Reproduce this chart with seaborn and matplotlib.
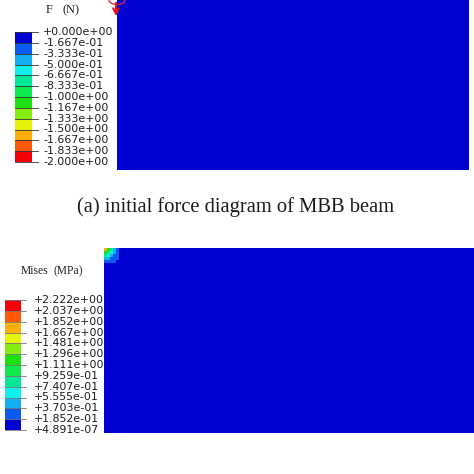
import matplotlib
matplotlib.use("Agg")
import matplotlib.pyplot as plt
from matplotlib.colors import ListedColormap, BoundaryNorm
from matplotlib.patches import Arc
import numpy as np
import seaborn as sns

plt.rcParams["font.family"] = ["DejaVu Sans"]

W = 474
H = 474

contour_colors = ["#0000d2", "#0a5aee", "#14aef2", "#10f0e8", "#00e896", "#0ce84e",
                  "#1ee010", "#84ec10", "#e6f20c", "#ffae10", "#ff5a0a", "#f60008"]

force_labels = ["+0.000e+00", "-1.667e-01", "-3.333e-01", "-5.000e-01", "-6.667e-01",
                "-8.333e-01", "-1.000e+00", "-1.167e+00", "-1.333e+00", "-1.500e+00",
                "-1.667e+00", "-1.833e+00", "-2.000e+00"]
mises_labels = ["+2.222e+00", "+2.037e+00", "+1.852e+00", "+1.667e+00", "+1.481e+00",
                "+1.296e+00", "+1.111e+00", "+9.259e-01", "+7.407e-01", "+5.555e-01",
                "+3.703e-01", "+1.852e-01", "+4.891e-07"]

# colour band index of the cells round the loaded corner, the rest of the plate is band 0
corner_bands = [[9, 6, 4, 2, 1],
                [6, 4, 3, 2, 1],
                [4, 3, 2, 1, 1],
                [2, 2, 1, 1, 1],
                [1, 1, 1, 1, 0]]

cmap = ListedColormap(contour_colors)
norm = BoundaryNorm(np.arange(-0.5, 12.5), 12)


def px_axes(fig, x0, y0, x1, y1):
    return fig.add_axes([x0 / W, 1 - y1 / H, (x1 - x0) / W, (y1 - y0) / H])


def plate(fig, box, bands=None):
    ax = px_axes(fig, *box)
    grid = np.zeros((62, 124))
    if bands is not None:
        bands = np.array(bands)
        grid[:bands.shape[0], :bands.shape[1]] = bands
    sns.heatmap(grid, ax=ax, cmap=cmap, norm=norm, cbar=False,
                xticklabels=False, yticklabels=False)
    return ax


def legend(fig, box, colors, labels, label_x, tick_color):
    ax = px_axes(fig, *box)
    vals = np.arange(len(colors)).reshape(-1, 1)
    sns.heatmap(vals, ax=ax, cmap=ListedColormap(colors), cbar=False,
                xticklabels=False, yticklabels=False)
    for i in range(len(labels)):
        ax.plot([0, 1.33], [i, i], color=tick_color, lw=0.6, clip_on=False)
        fig.text(label_x / W, 1 - (box[1] + (box[3] - box[1]) * i / 12) / H, labels[i],
                 fontsize=7.9, color="#1c1c1c", va="center", ha="left")
    return ax


fig = plt.figure(figsize=(W / 100, H / 100), dpi=100, facecolor="white")

# (a) force diagram
ax_f = plate(fig, (117, 0, 469, 170))
legend(fig, (15, 32, 32, 162), contour_colors, force_labels, 43, "#333333")
fig.text(46 / W, 1 - 10 / H, "F", family="Liberation Serif", fontsize=9, va="center", color="#222222")
fig.text(62 / W, 1 - 10 / H, "(N)", family="Liberation Serif", fontsize=9, va="center", color="#222222")
fig.text(77 / W, 1 - 207 / H, "(a) initial force diagram of MBB beam",
         family="Liberation Serif", fontsize=14.8, va="center", ha="left", color="#1a1a1a")

# load arrow at the top left corner
overlay = fig.add_axes([0, 0, 1, 1])
overlay.set_xlim(0, W)
overlay.set_ylim(H, 0)
overlay.axis("off")
overlay.patch.set_alpha(0)
overlay.annotate("", xy=(116, 19), xytext=(116, 0),
                 arrowprops=dict(arrowstyle="->", color="#e01020", lw=1.5, mutation_scale=10))
overlay.add_patch(Arc((117, 0), 16, 9, theta1=0, theta2=180, color="#d03040", lw=1.0))

# (b) mises stress
ax_m = plate(fig, (104, 248, 474, 433), corner_bands)
legend(fig, (5, 300, 21, 430), contour_colors[::-1], mises_labels, 34, "#777777")
fig.text(21 / W, 1 - 271 / H, "Mises", family="Liberation Serif", fontsize=8.4, va="center", color="#222222")
fig.text(54 / W, 1 - 271 / H, "(MPa)", family="Liberation Serif", fontsize=8.4, va="center", color="#222222")

fig.savefig("out.png", dpi=100, facecolor="white")
